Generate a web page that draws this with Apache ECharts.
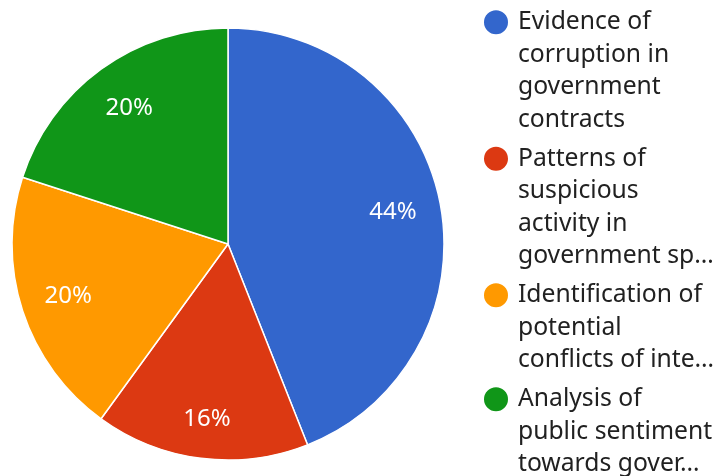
<!DOCTYPE html>
<html>
<head>
<meta charset="utf-8">
<script src="https://cdn.jsdelivr.net/npm/echarts@6/dist/echarts.min.js"></script>
<style>
html,body{margin:0;padding:0;background:#fff;}
#chart{width:713px;height:476px;}
</style>
</head>
<body>
<div id="chart"></div>
<script>
const categories = [
  'Evidence of corruption in government contracts',
  'Patterns of suspicious activity in government sp…',
  'Identification of potential conflicts of inte…',
  'Analysis of public sentiment towards gover…'
];
const legendLines = [
  ['Evidence of', 'corruption in', 'government', 'contracts'],
  ['Patterns of', 'suspicious', 'activity in', 'government sp…'],
  ['Identification of', 'potential', 'conflicts of inte…'],
  ['Analysis of', 'public sentiment', 'towards gover…']
];
const values = [44, 16, 20, 20];
const colors = ['#3366cc', '#dc3912', '#ff9900', '#109618'];

const LH = 32.5;
const ICON_W = 29;
const maxLines = Math.max.apply(null, legendLines.map(l => l.length));

// legend marker: circle aligned with the first text line of a multi-line entry
function markerPath(nLines) {
  const H = nLines * LH;
  const cy = LH / 2, r = 12, cx = 12;
  return 'path://M0,0 L0.01,0 L0,0.01 Z ' +
    'M' + (cx - r) + ',' + cy + ' A' + r + ',' + r + ' 0 1,1 ' + (cx + r) + ',' + cy +
    ' A' + r + ',' + r + ' 0 1,1 ' + (cx - r) + ',' + cy + ' Z ' +
    'M' + ICON_W + ',' + H + ' L' + (ICON_W - 0.01) + ',' + H + ' L' + ICON_W + ',' + (H - 0.01) + ' Z';
}

const chart = echarts.init(document.getElementById('chart'));
const pieData = categories.map((n, i) => ({ name: n, value: values[i], itemStyle: { color: colors[i] } }));

chart.setOption({
  animation: false,
  legend: {
    orient: 'vertical',
    left: 484,
    top: 6,
    padding: 0,
    itemGap: 6.5,
    itemWidth: ICON_W,
    itemHeight: maxLines * LH,
    selectedMode: false,
    itemStyle: { borderWidth: 0 },
    data: categories.map((n, i) => ({
      name: n,
      icon: markerPath(legendLines[i].length)
    })),
    formatter: function (name) {
      return legendLines[categories.indexOf(name)].join('\n');
    },
    textStyle: {
      fontFamily: 'Noto Sans',
      fontSize: 24.7,
      lineHeight: LH,
      color: '#212121'
    }
  },
  series: [
    {
      type: 'pie',
      center: [228, 244],
      radius: [0, 216],
      startAngle: 90,
      clockwise: true,
      silent: true,
      label: { show: false },
      labelLine: { show: false },
      itemStyle: { borderColor: '#ffffff', borderWidth: 1.5 },
      data: pieData
    },
    {
      type: 'pie',
      center: [228, 244],
      radius: [160, 170],
      startAngle: 90,
      clockwise: true,
      silent: true,
      itemStyle: { color: 'rgba(0,0,0,0)' },
      labelLine: { show: false },
      label: {
        show: true,
        position: 'inside',
        formatter: '{d}%',
        fontFamily: 'Noto Sans',
        fontSize: 24,
        color: '#ffffff'
      },
      labelLayout: function (p) {
        return p.dataIndex === 1 ? { dy: 8 } : {};
      },
      data: categories.map((n, i) => ({ name: n, value: values[i] }))
    }
  ]
});
</script>
</body>
</html>
